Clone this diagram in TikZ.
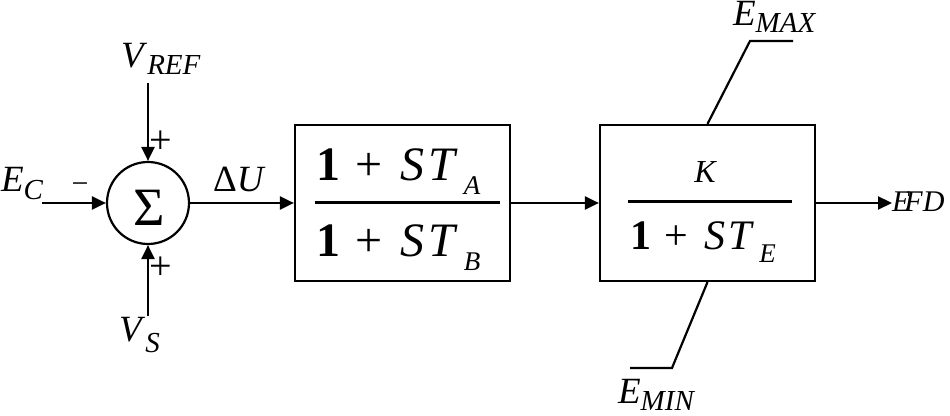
\documentclass[tikz,border=0pt]{standalone}
\usepackage{fontspec}
\setmainfont{Liberation Serif}
\usetikzlibrary{arrows.meta}
\newcommand{\fsz}[1]{\fontsize{#1}{#1}\selectfont}
\newcommand{\varsub}[3][4pt]{\textit{#2}\raisebox{-#1}{\fsz{14.5}\textit{#3}}}
\newcommand{\lagterm}[2]{\textbf{1}\hspace{0.32em}+\hspace{0.38em}\textit{S\kern0.08em T}\hspace{0.12em}\raisebox{-0.29em}{\fsz{#1}\textit{#2}}}
\begin{document}
\begin{tikzpicture}[x=0.5pt,y=-0.5pt,line width=1.1pt,
  arr/.style={-{Triangle[length=7pt,width=6.5pt]}},
  blk/.style={draw,minimum width=107.5pt,minimum height=78pt,inner sep=0pt},
  txt/.style={inner sep=0pt,anchor=base west},
  lbl/.style={txt,font=\fsz{18.5}}]
\useasboundingbox (0,0) rectangle (950,416);
\node[circle,draw,minimum size=41pt,inner sep=0pt] (sum) at (148,203) {};
\node[inner sep=0pt,font=\fsz{27}] (sigma) at (149,208) {Σ};
\node[blk] (lead) at (402.5,203) {};
\node[blk] (lim) at (707.5,203) {};
\node[lbl] (ec) at (0,192) {\varsub{E}{C}};
\node[lbl] (vref) at (120,68) {\varsub[3.5pt]{V}{REF}};
\node[lbl] (vs) at (118,342) {\varsub[5.5pt]{V}{S}};
\node[lbl] (du) at (212,192) {Δ\textit{U}};
\node[lbl] (emax) at (732,26) {\varsub[3.2pt]{E}{MAX}};
\node[lbl] (emin) at (617,404) {\varsub[3.5pt]{E}{MIN}};
\node[txt,font=\fsz{15}] (efd) at (891,212) {\textit{E\kern-3pt F\kern0pt D}};
\node[inner sep=0pt,font=\fsz{15}] (neg) at (80,188) {−};
\node[inner sep=0pt,font=\fsz{20}] (posa) at (161,142) {+};
\node[inner sep=0pt,font=\fsz{20}] (posb) at (161,268) {+};
\node[txt,font=\fsz{24}] (numa) at (315,181) {\lagterm{13.5}{A}};
\node[txt,font=\fsz{24}] (dena) at (315,257) {\lagterm{13.5}{B}};
\node[inner sep=0pt,anchor=base,font=\fsz{16}\itshape] (gain) at (705,183) {K};
\node[txt,font=\fsz{21}] (dene) at (629,250) {\lagterm{13.5}{E}};
\draw[line width=1.5pt] (315,203) -- (500,203);
\draw[line width=1.5pt] (628,202) -- (792,202);
\coordinate (ecend) at (42,203);
\coordinate (vreftop) at (148,83);
\coordinate (vsbot) at (148,316);
\coordinate (out) at (892,203);
\coordinate (maxk) at (750,41);
\coordinate (maxe) at (793,41);
\coordinate (mink) at (672,368);
\coordinate (mine) at (630,368);
\draw[arr] (ecend) -- (sum);
\draw[arr] (vreftop) -- (sum);
\draw[arr] (vsbot) -- (sum);
\draw[arr] (sum) -- (lead);
\draw[arr] (lead) -- (lim);
\draw[arr] (lim) -- (out);
\draw (lim.north) -- (maxk) -- (maxe);
\draw (lim.south) -- (mink) -- (mine);
\end{tikzpicture}
\end{document}
